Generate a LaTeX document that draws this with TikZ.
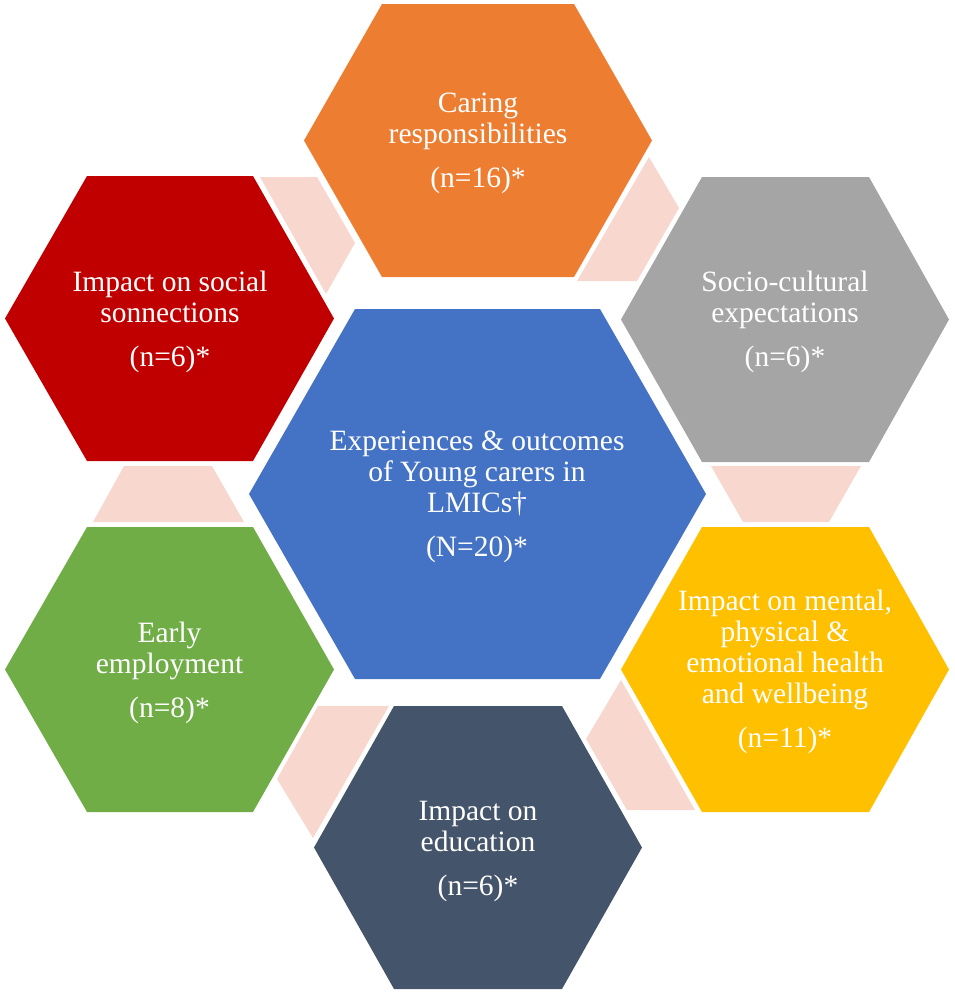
\documentclass[tikz,border=0pt]{standalone}
\usepackage{fontspec}
\setmainfont{Liberation Serif}
\definecolor{cblue}{HTML}{4472C4}
\definecolor{corange}{HTML}{ED7D31}
\definecolor{cgrey}{HTML}{A5A5A5}
\definecolor{cred}{HTML}{C00000}
\definecolor{cgreen}{HTML}{70AD47}
\definecolor{cyellow}{HTML}{FFC000}
\definecolor{cslate}{HTML}{44546A}
\definecolor{cpink}{HTML}{F8D8CE}
\begin{document}
\begin{tikzpicture}[x=1pt,y=-1pt,
  lbl/.style={text=white, align=center, inner sep=0pt,
    font=\fontsize{29.5}{31}\selectfont},
  hexfill/.style={fill=#1, draw=none},
  linkpiece/.style={fill=cpink, draw=none}]
\useasboundingbox (0,0) rectangle (955,994);
% connector pieces
\fill[linkpiece] (260,177) -- (317,177) -- (355,243) -- (326,294) -- cycle;
\fill[linkpiece] (649,157) -- (679,208) -- (637,281) -- (577,281) -- cycle;
\fill[linkpiece] (711,466) -- (861,466) -- (829,522) -- (743,522) -- cycle;
\fill[linkpiece] (621,680) -- (695,810) -- (627,810) -- (586,739) -- cycle;
\fill[linkpiece] (318,706) -- (389,706) -- (313,838) -- (277,779) -- cycle;
\fill[linkpiece] (124,466) -- (212,466) -- (244,522) -- (93,522) -- cycle;
% hexagons
\fill[hexfill=cblue] (249,494) -- (355,309) -- (600,309) -- (706,494) -- (600,679) -- (355,679) -- cycle;
\fill[hexfill=corange] (304,140.5) -- (382,4) -- (574,4) -- (652,140.5) -- (574,277) -- (382,277) -- cycle;
\fill[hexfill=cred] (5,318.5) -- (87,176) -- (253,176) -- (334,318.5) -- (253,461) -- (87,461) -- cycle;
\fill[hexfill=cgrey] (621,319.5) -- (702,177) -- (869,177) -- (949,319.5) -- (869,462) -- (702,462) -- cycle;
\fill[hexfill=cyellow] (621,669.5) -- (702,527) -- (869,527) -- (949,669.5) -- (869,812) -- (702,812) -- cycle;
\fill[hexfill=cgreen] (5,669.5) -- (87,527) -- (253,527) -- (334,669.5) -- (253,812) -- (87,812) -- cycle;
\fill[hexfill=cslate] (314,847.5) -- (394,706) -- (562,706) -- (642,847.5) -- (562,989) -- (394,989) -- cycle;
% labels
\node[lbl] (center) at (477,497) {Experiences \& outcomes\\of Young carers in\\LMICs†\\[13pt](N=20)*};
\node[lbl] (caring) at (478,143.5) {Caring\\responsibilities\\[13pt](n=16)*};
\node[lbl] (social) at (170,322) {Impact on social\\sonnections\\[13pt](n=6)*};
\node[lbl] (socio) at (785,322) {Socio-cultural\\expectations\\[13pt](n=6)*};
\node[lbl] (mental) at (785,671.5) {Impact on mental,\\physical \&\\emotional health\\and wellbeing\\[13pt](n=11)*};
\node[lbl] (employ) at (169.5,672.5) {Early\\employment\\[13pt](n=8)*};
\node[lbl] (educ) at (478,851) {Impact on\\education\\[13pt](n=6)*};
\end{tikzpicture}
\end{document}
